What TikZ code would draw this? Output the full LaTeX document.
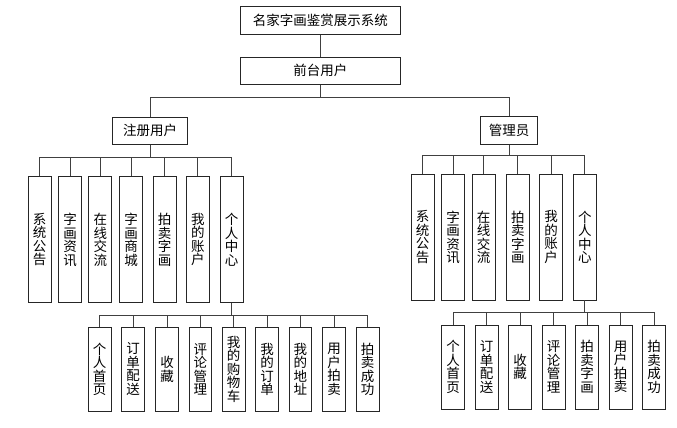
\documentclass[tikz,border=0pt]{standalone}
\usepackage{fontspec}
\newfontfamily\cjk{Noto Sans CJK SC}
\begin{document}
\begin{tikzpicture}[x=1pt,y=-1pt,
  box/.style={draw=black!85,line width=0.8pt,inner sep=0pt,fill=white,
    font=\cjk\fontsize{13.5}{13.5}\selectfont,align=center},
  hbox/.style={box,minimum height=27.5pt},
  vbox2/.style={box,minimum width=23pt,minimum height=126pt},
  vbox3/.style={box,minimum width=22.7pt,minimum height=84pt},
  conn/.style={draw=black!75,line width=0.8pt}]
\useasboundingbox (0,0) rectangle (677,428);
\fill[white] (0,0) rectangle (677,428);
% level 0/1
\node[hbox,minimum width=159.5pt] (top) at (320.3,20.5) {名家字画鉴赏展示系统};
\node[hbox,minimum width=159.5pt,minimum height=27pt] (front) at (320.3,70.8) {前台用户};
\node[hbox,minimum width=75pt,minimum height=27pt] (reg) at (150.2,130.8) {注册用户};
\node[hbox,minimum width=57pt] (adm) at (509.2,130.5) {管理员};
\draw[conn] (top.south) -- (front.north);
\draw[conn] (front.south) -- ++(0,13) -| (reg.north);
\draw[conn] (front.south) -- ++(0,13) -| (adm.north);
% left level 2
\node[vbox2] (l1) at (39.7,239.7) {系\\统\\公\\告};
\node[vbox2] (l2) at (70,239.7) {字\\画\\资\\讯};
\node[vbox2] (l3) at (100.3,239.7) {在\\线\\交\\流};
\node[vbox2] (l4) at (131,239.7) {字\\画\\商\\城};
\node[vbox2] (l5) at (164.5,239.7) {拍\\卖\\字\\画};
\node[vbox2] (l6) at (197.8,239.7) {我\\的\\账\\户};
\node[vbox2] (l7) at (231.5,239.7) {个\\人\\中\\心};
\foreach \c in {l1,l2,l3,l4,l5,l6,l7}
  \draw[conn] (reg.south) -- ++(0,12.2) -| (\c.north);
% right level 2
\node[vbox2,minimum height=125.7pt] (r1) at (422.7,237.2) {系\\统\\公\\告};
\node[vbox2,minimum height=125.7pt] (r2) at (453,237.2) {字\\画\\资\\讯};
\node[vbox2,minimum height=125.7pt] (r3) at (483.7,237.2) {在\\线\\交\\流};
\node[vbox2,minimum height=125.7pt] (r4) at (517.8,237.2) {拍\\卖\\字\\画};
\node[vbox2,minimum height=125.7pt] (r5) at (551.2,237.2) {我\\的\\账\\户};
\node[vbox2,minimum height=125.7pt] (r6) at (584.8,237.2) {个\\人\\中\\心};
\foreach \c in {r1,r2,r3,r4,r5,r6}
  \draw[conn] (adm.south) -- ++(0,10.5) -| (\c.north);
% left level 3
\node[vbox3] (a1) at (99.7,369.2) {个\\人\\首\\页};
\node[vbox3] (a2) at (133,369.2) {订\\单\\配\\送};
\node[vbox3] (a3) at (167,369.2) {收\\藏};
\node[vbox3] (a4) at (200.3,369.2) {评\\论\\管\\理};
\node[vbox3] (a5) at (233.7,369.2) {我\\的\\购\\物\\车};
\node[vbox3] (a6) at (267,369.2) {我\\的\\订\\单};
\node[vbox3] (a7) at (300.3,369.2) {我\\的\\地\\址};
\node[vbox3] (a8) at (334,369.2) {用\\户\\拍\\卖};
\node[vbox3] (a9) at (367.7,369.2) {拍\\卖\\成\\功};
\foreach \c in {a1,a2,a3,a4,a5,a6,a7,a8,a9}
  \draw[conn] (l7.south) -- ++(0,12.3) -| (\c.north);
% right level 3
\node[vbox3] (b1) at (453,367) {个\\人\\首\\页};
\node[vbox3] (b2) at (486.7,367) {订\\单\\配\\送};
\node[vbox3] (b3) at (520,367) {收\\藏};
\node[vbox3] (b4) at (553.7,367) {评\\论\\管\\理};
\node[vbox3] (b5) at (587.2,367) {拍\\卖\\字\\画};
\node[vbox3] (b6) at (620.7,367) {用\\户\\拍\\卖};
\node[vbox3] (b7) at (654.2,367) {拍\\卖\\成\\功};
\foreach \c in {b1,b2,b3,b4,b5,b6,b7}
  \draw[conn] (r6.south) -- ++(0,12.3) -| (\c.north);
\end{tikzpicture}
\end{document}
